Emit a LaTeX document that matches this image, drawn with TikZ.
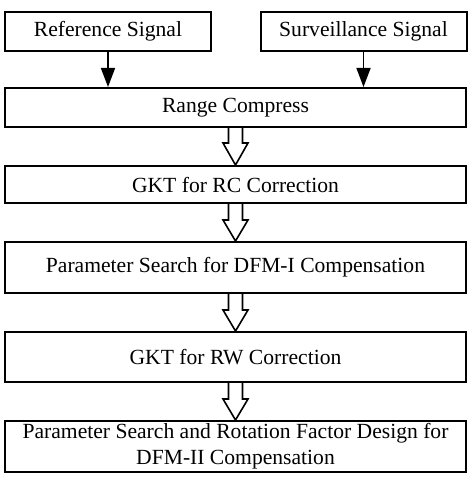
\documentclass[tikz,border=0pt]{standalone}
\usepackage{fontspec}
\setmainfont{Liberation Serif}
\usetikzlibrary{arrows.meta,calc}

\begin{document}
\begin{tikzpicture}[x=0.5pt,y=-0.5pt]
\tikzstyle{every node}+=[inner sep=0pt, font=\fontsize{10.8}{13}\selectfont]
\tikzstyle{box}=[draw=black, line width=1pt, minimum width=230.5pt, align=center]
\tikzstyle{sigbox}=[draw=black, line width=1pt, minimum width=103pt, minimum height=19.5pt]
\tikzstyle{flow}=[draw=black, line width=0.8pt, -{Triangle[length=9.5pt,width=7pt]}]
\tikzstyle{hollow}=[draw=black, line width=0.8pt, fill=white]
\useasboundingbox (0,0) rectangle (474,481);
\node [sigbox] (ref) at (108,31.5) {Reference Signal};
\node [sigbox] (surv) at (363.5,31.5) {Surveillance Signal};
\node [box, minimum height=19.5pt] (rc) at (235.5,107.5) {Range Compress};
\node [box, minimum height=18.5pt] (gkta) at (235.5,184.5) {GKT for RC Correction};
\node [box, minimum height=25.5pt] (dfma) at (235.5,267.5) {Parameter Search for DFM-I Compensation};
\node [box, minimum height=25pt] (gktb) at (235.5,357) {GKT for RW Correction};
\node [box, minimum height=25.5pt] (dfmb) at (235.5,446.5) {Parameter Search and Rotation Factor Design for\\DFM-II Compensation};
\draw [flow] (ref.south) -- (ref.south |- rc.north);
\draw [flow] (surv.south) -- (surv.south |- rc.north);
\draw [hollow] ($(rc.south)+(-7,0)$) -- ($(gkta.north)+(-7,-22)$) -- ($(gkta.north)+(-12.5,-22)$) -- (gkta.north) -- ($(gkta.north)+(12.5,-22)$) -- ($(gkta.north)+(7,-22)$) -- ($(rc.south)+(7,0)$);
\draw [hollow] ($(gkta.south)+(-7,0)$) -- ($(dfma.north)+(-7,-21)$) -- ($(dfma.north)+(-12.5,-21)$) -- (dfma.north) -- ($(dfma.north)+(12.5,-21)$) -- ($(dfma.north)+(7,-21)$) -- ($(gkta.south)+(7,0)$);
\draw [hollow] ($(dfma.south)+(-7,0)$) -- ($(gktb.north)+(-7,-21)$) -- ($(gktb.north)+(-12.5,-21)$) -- (gktb.north) -- ($(gktb.north)+(12.5,-21)$) -- ($(gktb.north)+(7,-21)$) -- ($(dfma.south)+(7,0)$);
\draw [hollow] ($(gktb.south)+(-7,0)$) -- ($(dfmb.north)+(-7,-21)$) -- ($(dfmb.north)+(-12.5,-21)$) -- (dfmb.north) -- ($(dfmb.north)+(12.5,-21)$) -- ($(dfmb.north)+(7,-21)$) -- ($(gktb.south)+(7,0)$);
\end{tikzpicture}
\end{document}
